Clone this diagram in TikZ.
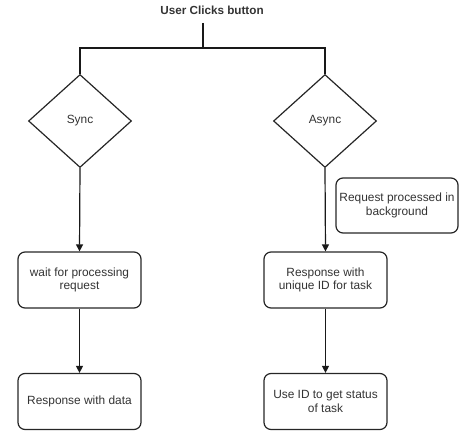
\documentclass[tikz,border=0pt]{standalone}
\usepackage{fontspec}
\setmainfont{Liberation Sans}
\usetikzlibrary{shapes.geometric,arrows.meta}
\begin{document}
\begin{tikzpicture}[x=1pt,y=-1pt,
  line width=1.2pt,
  every node/.style={font=\fontsize{11.9}{13.5}\selectfont, text=black!80},
  procbox/.style={draw=black!85, rounded corners=7pt, minimum width=123pt, minimum height=56pt, align=center, inner sep=2pt},
  decision/.style={draw=black!85, diamond, minimum width=103pt, minimum height=93pt, inner sep=0pt, aspect=1.1},
  flow/.style={draw=black!90, -{Triangle[length=7pt,width=7pt]}},
  plain/.style={draw=black!90}]
\useasboundingbox (0,0) rectangle (474,438);
\node[font=\bfseries\fontsize{11.7}{13}\selectfont] (title) at (212,10) {User Clicks button};
\coordinate (top) at (203,23);
\coordinate (split) at (203,48);
\node[decision] (sync) at (80,121) {Sync};
\node[decision] (async) at (325,121) {Async};
\node[procbox] (wait) at (79.5,280) {wait for processing\\request};
\node[procbox] (data) at (79.5,401.5) {Response with data};
\node[procbox] (uid) at (325.5,280) {Response with\\unique ID for task};
\node[procbox] (status) at (325.5,401.5) {Use ID to get status\\of task};
\node[procbox, minimum width=122pt, minimum height=55pt] (bg) at (397,205.5) {Request processed in\\background};
\draw[plain] (top) -- (split);
\draw[plain] (sync.north) |- (split) -| (async.north);
\draw[flow] (sync.south) -- (wait.north);
\draw[flow] (wait.south) -- (data.north);
\draw[flow] (async.south) -- (uid.north);
\draw[flow] (uid.south) -- (status.north);
\end{tikzpicture}
\end{document}
